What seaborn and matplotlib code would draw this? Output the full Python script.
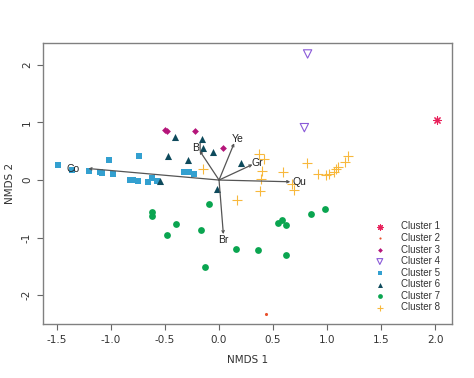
import numpy as np
import pandas as pd
import seaborn as sns
import matplotlib.pyplot as plt

# site scores by cluster
c1_x = [2.02]
c1_y = [1.04]
c2_x = [0.435]
c2_y = [-2.33]
c3_x = [-0.50, -0.48, -0.22, 0.04]
c3_y = [0.87, 0.85, 0.85, 0.55]
c4_x = [0.82, 0.79]
c4_y = [2.19, 0.91]
c5_x = [-1.49, -1.36, -1.20, -1.10, -1.08, -0.98, -1.02, -0.74, -0.82, -0.80,
        -0.75, -0.66, -0.62, -0.57, -0.32, -0.28, -0.23]
c5_y = [0.26, 0.17, 0.16, 0.14, 0.12, 0.10, 0.35, 0.41, 0.00, 0.00,
        -0.02, -0.03, 0.04, -0.02, 0.14, 0.14, 0.11]
c6_x = [-0.41, -0.16, -0.15, -0.06, -0.47, -0.29, 0.20, -0.55, -0.02]
c6_y = [0.74, 0.71, 0.56, 0.49, 0.42, 0.34, 0.30, -0.02, -0.16]
c7_x = [-0.09, -0.62, -0.62, -0.40, -0.17, -0.48, -0.13, 0.16, 0.36, 0.62,
        0.55, 0.58, 0.62, 0.85, 0.98]
c7_y = [-0.42, -0.56, -0.62, -0.77, -0.86, -0.96, -1.51, -1.19, -1.21, -1.31,
        -0.75, -0.69, -0.78, -0.59, -0.51]
c8_x = [-0.15, 0.37, 0.42, 0.40, 0.39, 0.38, 0.17, 0.59, 0.81, 0.68,
        0.69, 0.92, 0.99, 1.02, 1.06, 1.08, 1.10, 1.17, 1.19]
c8_y = [0.20, 0.46, 0.37, 0.16, 0.01, -0.19, -0.34, 0.14, 0.29, -0.07,
        -0.17, 0.10, 0.08, 0.10, 0.14, 0.20, 0.23, 0.32, 0.42]

# environmental vectors
env_names = ["Co", "Bl", "Ye", "Gr", "Qu", "Br"]
env_x = [-1.21, -0.18, 0.14, 0.31, 0.66, 0.04]
env_y = [0.20, 0.51, 0.64, 0.27, -0.03, -0.94]
lab_x = [-1.35, -0.21, 0.17, 0.355, 0.74, 0.04]
lab_y = [0.20, 0.56, 0.71, 0.30, -0.035, -1.04]

xs = [c1_x, c2_x, c3_x, c4_x, c5_x, c6_x, c7_x, c8_x]
ys = [c1_y, c2_y, c3_y, c4_y, c5_y, c6_y, c7_y, c8_y]
rows = []
for i, (cx, cy) in enumerate(zip(xs, ys)):
    for a, b in zip(cx, cy):
        rows.append({"NMDS1": a, "NMDS2": b, "cluster": f"Cluster {i + 1}"})
df = pd.DataFrame(rows)

styles = {
    "Cluster 1": dict(marker=(8, 2, 0), color="#e8205a", s=28, lw=0.8),
    "Cluster 2": dict(marker="o", color="#e8502c", s=5, lw=0),
    "Cluster 3": dict(marker="D", color="#b5157a", s=12, lw=0),
    "Cluster 4": dict(marker="v", color="#8a5ad8", s=36, lw=0.8, open=True),
    "Cluster 5": dict(marker="s", color="#33a0d0", s=22, lw=0),
    "Cluster 6": dict(marker="^", color="#0e4a5c", s=26, lw=0),
    "Cluster 7": dict(marker="o", color="#0aa550", s=24, lw=0),
    "Cluster 8": dict(marker="+", color="#f8b83c", s=48, lw=0.8),
}

fig = plt.figure(figsize=(4.74, 3.78), dpi=100)
ax = fig.add_axes([0.0907, 0.1429, 0.8629, 0.7433])
sns.set_style("white")
plt.rcParams["font.family"] = ["Liberation Sans", "DejaVu Sans"]

# arrows first, points on top
for n, ex, ey, lx, ly in zip(env_names, env_x, env_y, lab_x, lab_y):
    ax.annotate("", xy=(ex, ey), xytext=(0, 0),
                arrowprops=dict(arrowstyle="->", color="#555555", lw=0.9,
                                mutation_scale=4, shrinkA=0, shrinkB=0))
    ax.text(lx, ly, n, ha="center", va="center", fontsize=7.5,
            color="#222222", family=["Liberation Sans", "DejaVu Sans"])

for name, st in styles.items():
    sub = df[df["cluster"] == name]
    if st.get("open"):
        sns.scatterplot(data=sub, x="NMDS1", y="NMDS2", ax=ax, marker=st["marker"],
                        s=st["s"], facecolors="none", edgecolor=st["color"],
                        linewidth=st["lw"], label=name)
    elif st["marker"] in ("+", (8, 2, 0)):
        sns.scatterplot(data=sub, x="NMDS1", y="NMDS2", ax=ax, marker=st["marker"],
                        s=st["s"], color=st["color"], linewidth=st["lw"], label=name)
    else:
        sns.scatterplot(data=sub, x="NMDS1", y="NMDS2", ax=ax, marker=st["marker"],
                        s=st["s"], color=st["color"], linewidth=0, label=name)

ax.set_xlim(-1.63, 2.157)
ax.set_ylim(-2.50, 2.38)
ax.set_xticks([-1.5, -1.0, -0.5, 0.0, 0.5, 1.0, 1.5, 2.0])
ax.set_xticklabels(["-1.5", "-1.0", "-0.5", "0.0", "0.5", "1.0", "1.5", "2.0"])
ax.set_yticks([-2, -1, 0, 1, 2])
ax.set_yticklabels(["-2", "-1", "0", "1", "2"], rotation=90, va="center")
ax.tick_params(direction="out", length=4, width=0.8, color="#666666",
               labelsize=7.5, labelcolor="#333333", pad=4,
               bottom=True, left=True)
for sp in ax.spines.values():
    sp.set_color("#808080")
    sp.set_linewidth(1.0)
ax.set_xlabel("NMDS 1", fontsize=7.5, color="#333333", labelpad=7)
ax.set_ylabel("NMDS 2", fontsize=7.5, color="#333333", labelpad=5)

leg = ax.legend(loc="lower right", frameon=False, fontsize=7, markerscale=0.7,
                handletextpad=1.2, labelspacing=0.16, borderaxespad=0.8)
for t in leg.get_texts():
    t.set_color("#333333")

fig.savefig("out.png", dpi=100)
